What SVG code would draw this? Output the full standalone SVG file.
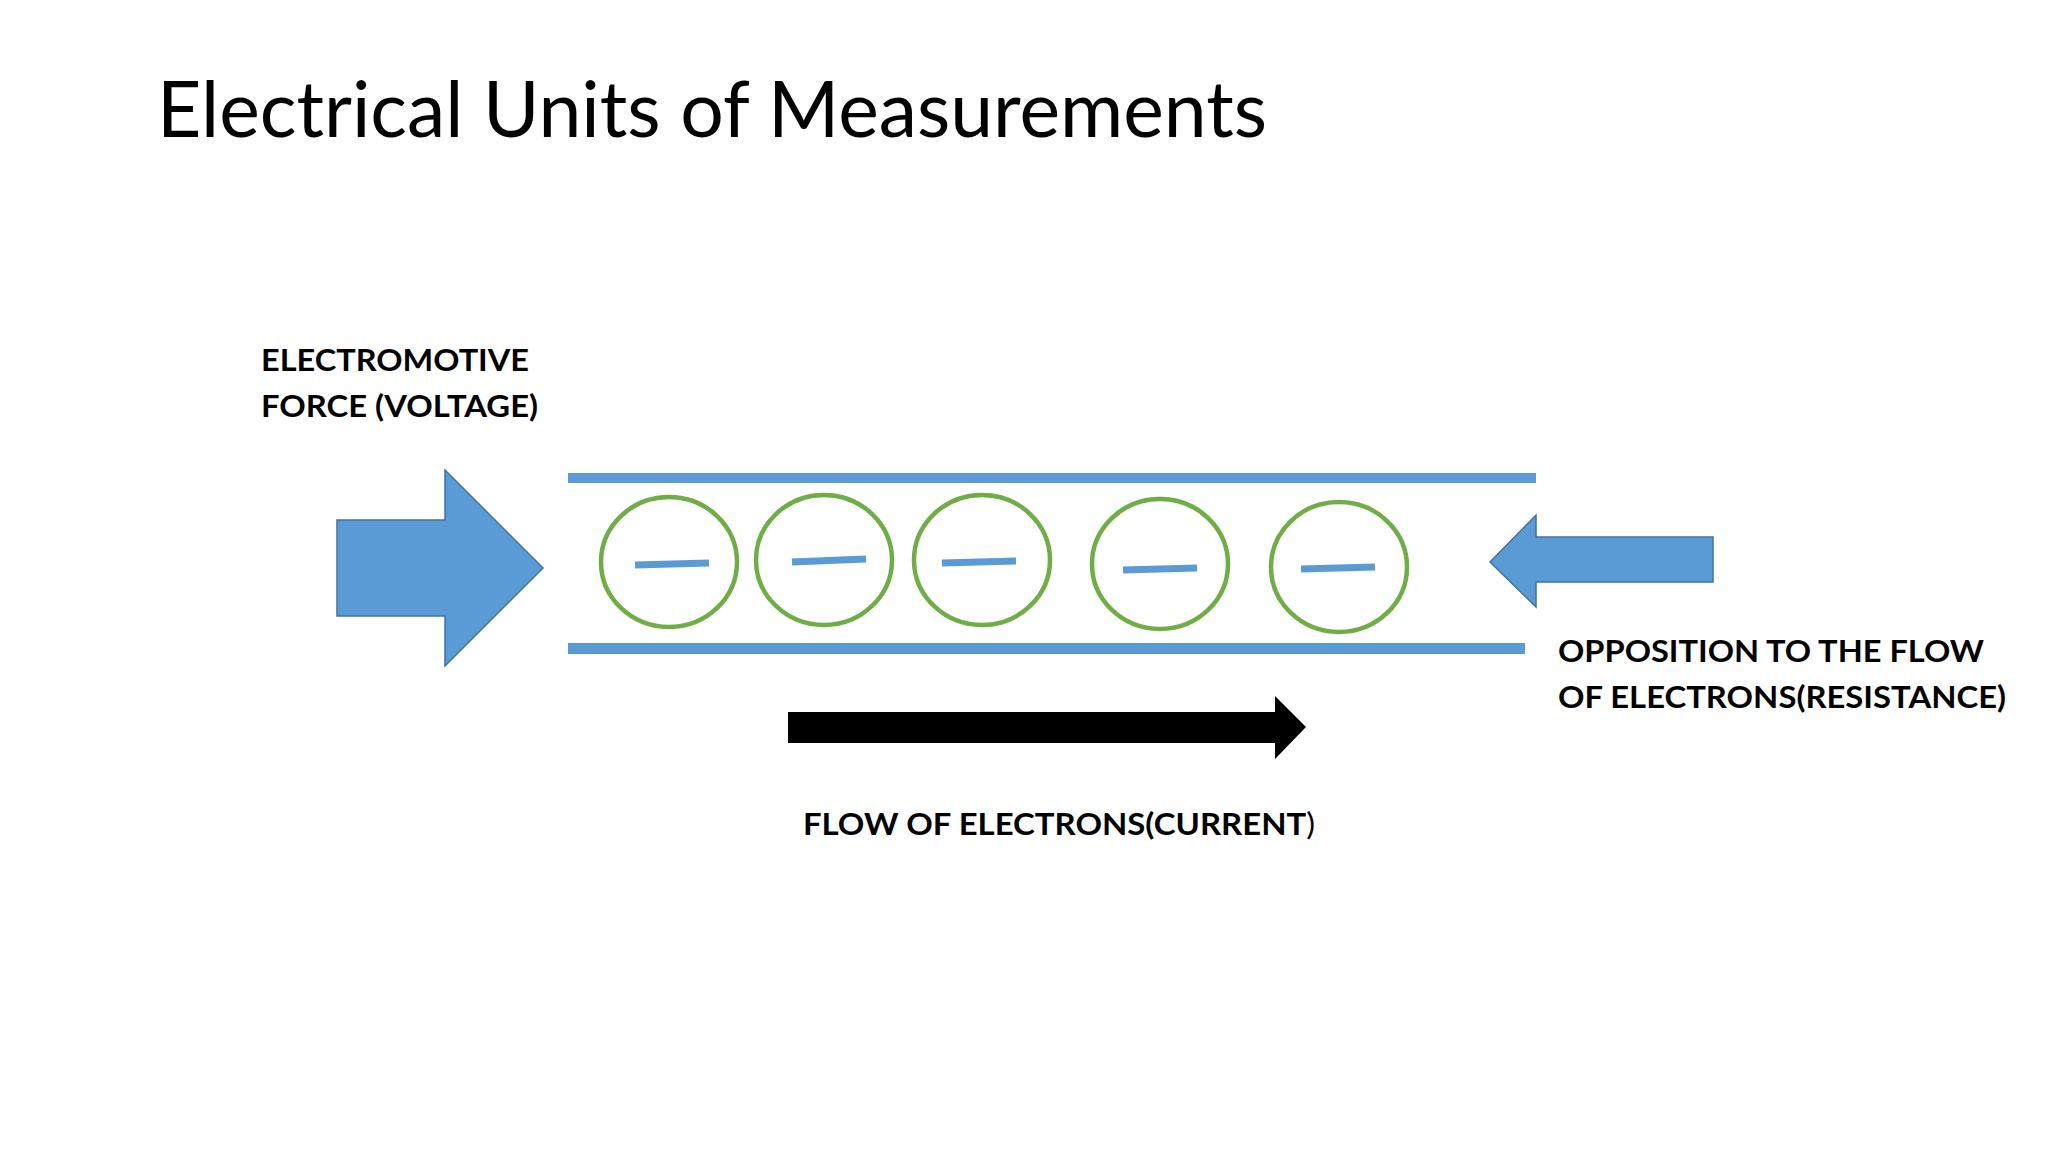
<svg xmlns="http://www.w3.org/2000/svg" width="2048" height="1152" viewBox="0 0 2048 1152">
<style>
.lbl{font-family:Lato,"Open Sans","Liberation Sans",sans-serif;font-weight:bold;font-size:31px;fill:#000}
.blue{fill:#5B9BD5;stroke:#41719C;stroke-width:1.5}
.e{fill:none;stroke:#70AD47;stroke-width:4.5}
.d{stroke:#5B9BD5;stroke-width:7}
</style>
<rect width="2048" height="1152" fill="#fff"/>
<text x="157" y="137" font-family="Lato,'Open Sans','Liberation Sans',sans-serif" font-size="78" textLength="1110" lengthAdjust="spacingAndGlyphs">Electrical Units of Measurements</text>
<g id="tube">
<rect x="568" y="473" width="968" height="10" fill="#5B9BD5"/>
<rect x="568" y="643" width="957" height="11" fill="#5B9BD5"/>
</g>
<g id="voltage-arrow"><polygon class="blue" points="337,520 445,520 445,470 543,568 445,666 445,616 337,616"/></g>
<g id="resistance-arrow"><polygon class="blue" points="1713,537 1536,537 1536,515 1490,562 1536,607 1536,582 1713,582"/></g>
<g id="connectors"><polygon fill="#000" points="788,712 1275,712 1275,696 1306,727 1275,759 1275,743 788,743"/></g>
<g id="electrons">
<ellipse class="e" cx="669" cy="562" rx="68" ry="65"/><line class="d" x1="635" y1="565" x2="709" y2="563"/>
<ellipse class="e" cx="824" cy="560" rx="68" ry="65"/><line class="d" x1="792" y1="562" x2="866" y2="559"/>
<ellipse class="e" cx="982" cy="560" rx="68" ry="65"/><line class="d" x1="942" y1="563" x2="1016" y2="561"/>
<ellipse class="e" cx="1160" cy="564" rx="68" ry="65"/><line class="d" x1="1123" y1="570" x2="1197" y2="568"/>
<ellipse class="e" cx="1339" cy="567" rx="68" ry="65"/><line class="d" x1="1301" y1="569" x2="1375" y2="567"/>
</g>
<g id="labels">
<text class="lbl" x="261" y="371" textLength="268" lengthAdjust="spacingAndGlyphs">ELECTROMOTIVE</text>
<text class="lbl" x="261" y="417" textLength="277" lengthAdjust="spacingAndGlyphs">FORCE (VOLTAGE)</text>
<text class="lbl" x="1558" y="662" textLength="426" lengthAdjust="spacingAndGlyphs">OPPOSITION TO THE FLOW</text>
<text class="lbl" x="1558" y="708" textLength="448" lengthAdjust="spacingAndGlyphs">OF ELECTRONS(RESISTANCE)</text>
<text class="lbl" x="803" y="835" textLength="512" lengthAdjust="spacingAndGlyphs">FLOW OF ELECTRONS(CURRENT<tspan font-weight="normal">)</tspan></text>
</g>
</svg>
